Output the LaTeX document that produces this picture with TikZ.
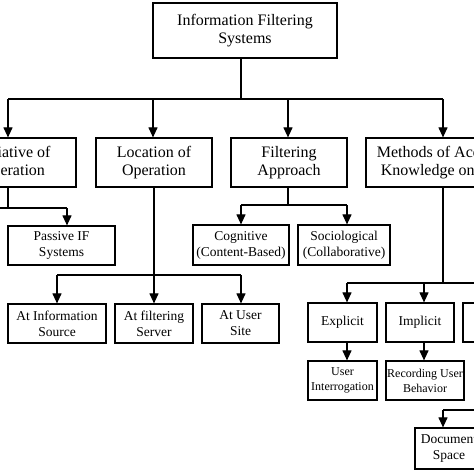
\documentclass[tikz,border=0pt]{standalone}
\usepackage{fontspec}
\setmainfont{Liberation Serif}
\usetikzlibrary{arrows.meta}
\begin{document}
\begin{tikzpicture}[x=1pt,y=-1pt,
 box/.style={draw, line width=1.2pt, inner sep=0pt, align=center},
 big/.style={font=\fontsize{16}{18.5}\selectfont},
 mid/.style={font=\fontsize{13.5}{16}\selectfont},
 sml/.style={font=\fontsize{12}{15}\selectfont},
 ln/.style={line width=1.1pt},
 arr/.style={ln, -{Triangle[width=9pt,length=10pt]}}]
\useasboundingbox (0,0) rectangle (474,474);
\clip (0,0) rectangle (474,474);
\fill[white] (0,0) rectangle (474,474);

% nodes
\node[box,big,minimum width=184pt,minimum height=55pt] (root) at (245,30.5) {Information Filtering\\Systems};
\node[box,big,minimum width=126pt,minimum height=49pt] (ini) at (13,162.5) {Initiative of\\Operation};
\node[box,big,minimum width=116pt,minimum height=49pt] (loc) at (154,162.5) {Location of\\Operation};
\node[box,big,minimum width=116pt,minimum height=49pt] (filt) at (289,162.5) {Filtering\\Approach};
\node[box,big,minimum width=164pt,minimum height=49pt] (meth) at (448,162.5) {Methods of Acquiring\\Knowledge on Users};

\node[box,mid,minimum width=107pt,minimum height=39pt] (pass) at (61.5,245.5) {Passive IF\\Systems};
\node[box,mid,minimum width=96pt,minimum height=40pt] (cog) at (241,245) {Cognitive\\(Content-Based)};
\node[box,mid,minimum width=92pt,minimum height=40pt] (soc) at (344,245) {Sociological\\(Collaborative)};

\node[box,mid,minimum width=98pt,minimum height=39pt] (src) at (57,323.5) {At Information\\Source};
\node[box,mid,minimum width=78pt,minimum height=39pt] (srv) at (154,323.5) {At filtering\\Server};
\node[box,mid,minimum width=77pt,minimum height=39pt] (usr) at (240.5,323.5) {At User\\Site};

\node[box,mid,minimum width=69pt,minimum height=39pt] (expl) at (342.5,322.5) {Explicit};
\node[box,mid,minimum width=68pt,minimum height=39pt] (impl) at (420,322.5) {Implicit};
\node[box,minimum width=70pt,minimum height=39pt] (third) at (498,322.5) {};

\node[box,sml,minimum width=69pt,minimum height=39pt] (uint) at (342.5,380.5) {User\\Interrogation};
\node[box,sml,minimum width=78pt,minimum height=39pt] (rec) at (425,380.5) {Recording User\\Behavior};
\node[box,mid,minimum width=68pt,minimum height=41pt] (doc) at (449,448.5) {Document\\Space};

% level 1 bus
\coordinate (b0) at (241,99);
\coordinate (bl) at (8,99);
\coordinate (br) at (443,99);
\draw[ln] (root.south -| b0) -- (b0);
\draw[ln] (bl) -- (br);
\draw[arr] (bl) -- (bl |- ini.north);
\draw[arr] (153,99) -- (153,99 |- loc.north);
\draw[arr] (288,99) -- (288,99 |- filt.north);
\draw[arr] (br) -- (br |- meth.north);

% initiative branch
\coordinate (i1) at (8,208);
\coordinate (i2) at (67,208);
\coordinate (i0) at (-10,208);
\draw[ln] (ini.south -| i1) -- (i1);
\draw[ln] (i0) -- (i2);
\draw[arr] (i2) -- (i2 |- pass.north);

% location branch
\coordinate (l1) at (57,275);
\coordinate (l2) at (241,275);
\draw[arr] (loc.south -| srv.north) -- (srv.north);
\draw[ln] (l1) -- (l2);
\draw[arr] (l1) -- (l1 |- src.north);
\draw[arr] (l2) -- (l2 |- usr.north);

% filtering branch
\coordinate (f0) at (288,205);
\coordinate (f1) at (241,205);
\coordinate (f2) at (347,205);
\draw[ln] (filt.south -| f0) -- (f0);
\draw[ln] (f1) -- (f2);
\draw[arr] (f1) -- (f1 |- cog.north);
\draw[arr] (f2) -- (f2 |- soc.north);

% methods branch
\coordinate (m0) at (443,283);
\coordinate (m1) at (347,283);
\coordinate (m2) at (424,283);
\coordinate (m3) at (498,283);
\draw[ln] (meth.south -| m0) -- (m0);
\draw[ln] (m1) -- (m3);
\draw[arr] (m1) -- (m1 |- expl.north);
\draw[arr] (m2) -- (m2 |- impl.north);
\draw[arr] (m3) -- (m3 |- third.north);

\draw[arr] (expl.south -| m1) -- (m1 |- uint.north);
\draw[arr] (impl.south -| m2) -- (m2 |- rec.north);

% document space
\coordinate (d0) at (443,410);
\coordinate (d1) at (500,410);
\draw[ln] (third.south -| d1) -- (d1) -- (d0);
\draw[arr] (d0) -- (d0 |- doc.north);
\end{tikzpicture}
\end{document}
